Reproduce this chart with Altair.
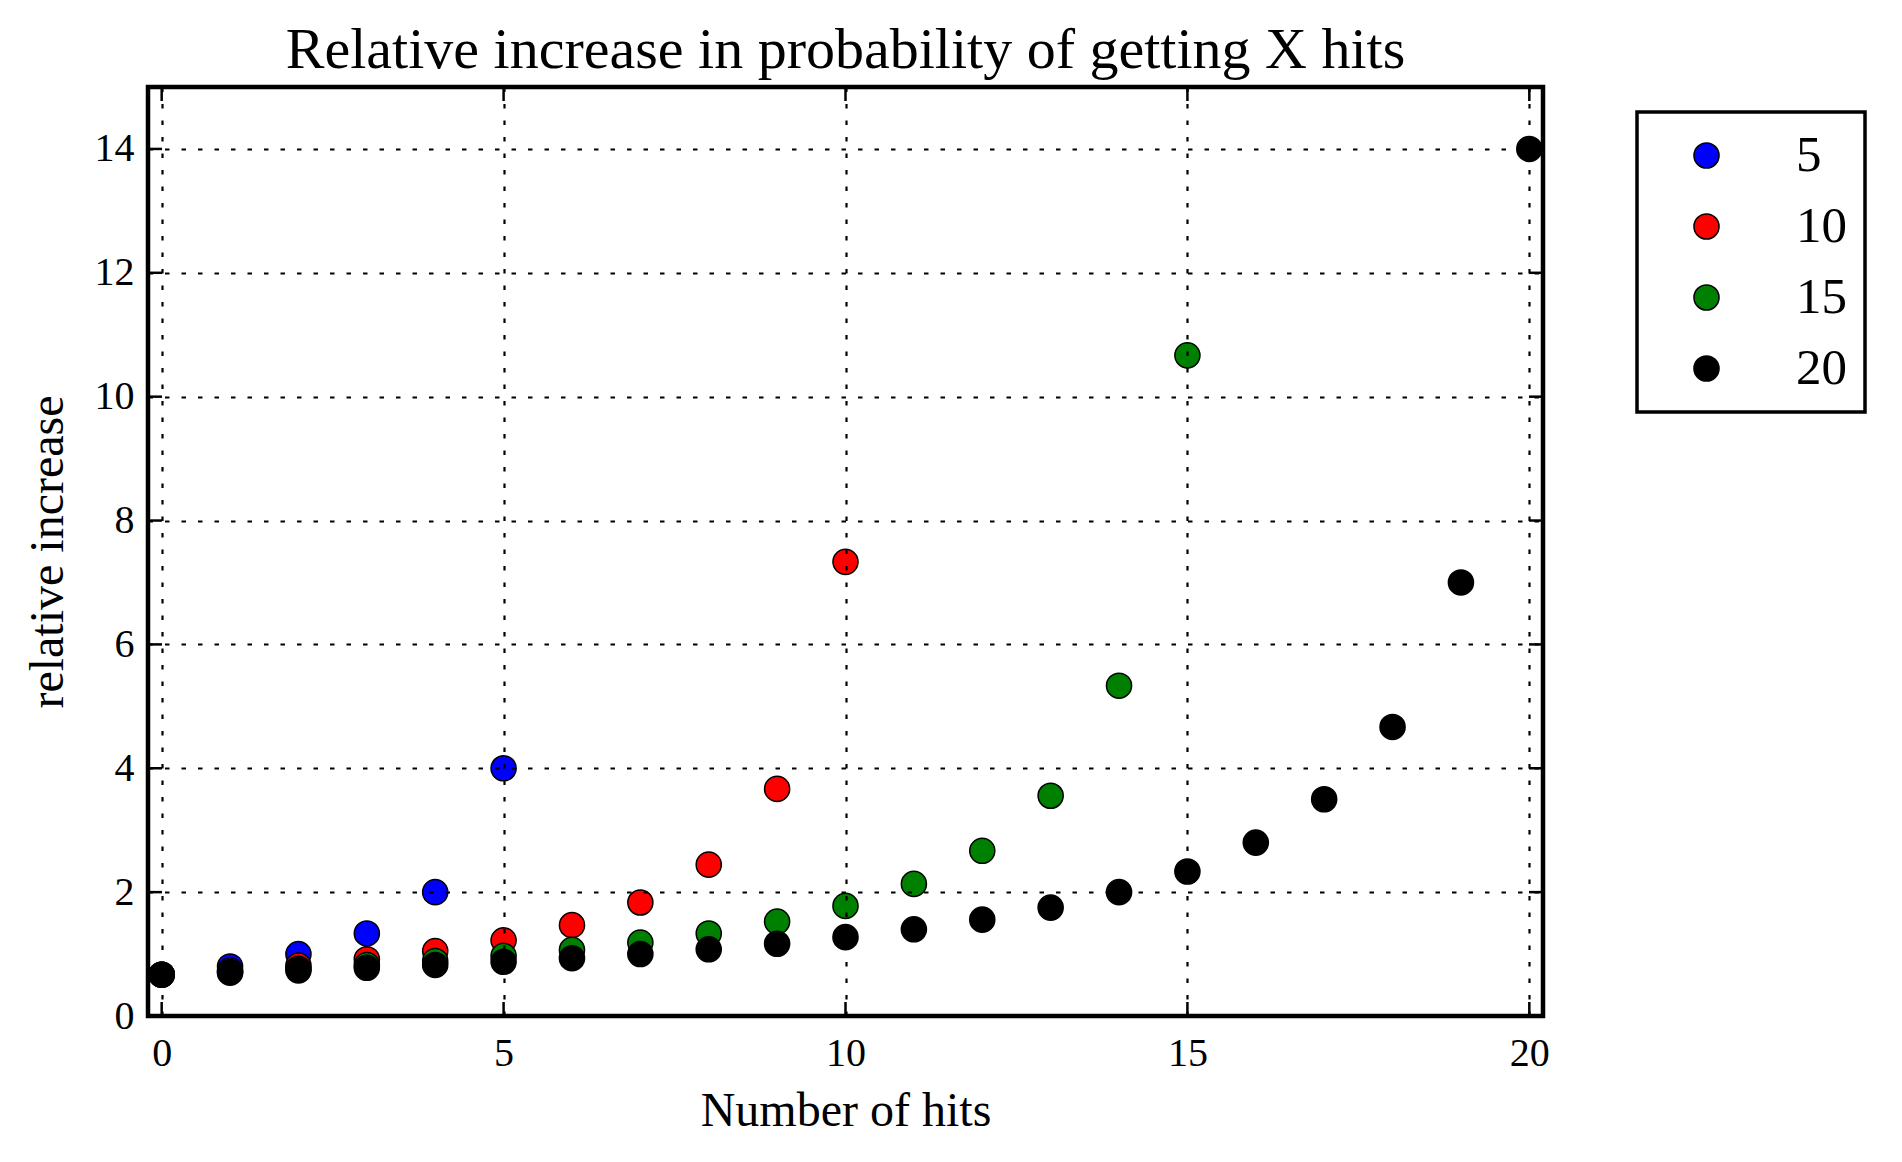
import altair as alt
import pandas as pd

# ---- data ----
series_names = ["5", "10", "15", "20"]
series_colors = ["#0000ff", "#ff0000", "#008000", "#000000"]

hits_5 = [0, 1, 2, 3, 4, 5]
inc_5 = [0.667, 0.8, 1.0, 1.333, 2.0, 4.0]

hits_10 = [0, 1, 2, 3, 4, 5, 6, 7, 8, 9, 10]
inc_10 = [0.667, 0.733, 0.815, 0.917, 1.048, 1.222, 1.467, 1.833, 2.444, 3.667, 7.333]

hits_15 = [0, 1, 2, 3, 4, 5, 6, 7, 8, 9, 10, 11, 12, 13, 14, 15]
inc_15 = [0.667, 0.711, 0.762, 0.821, 0.889, 0.970, 1.067, 1.185, 1.333, 1.524,
          1.778, 2.133, 2.667, 3.556, 5.333, 10.667]

hits_20 = [0, 1, 2, 3, 4, 5, 6, 7, 8, 9, 10, 11, 12, 13, 14, 15, 16, 17, 18, 19, 20]
inc_20 = [0.667, 0.700, 0.737, 0.778, 0.824, 0.875, 0.933, 1.0, 1.077, 1.167,
          1.273, 1.4, 1.556, 1.75, 2.0, 2.333, 2.8, 3.5, 4.667, 7.0, 14.0]

x_ticks = [0, 5, 10, 15, 20]
y_ticks = [0, 2, 4, 6, 8, 10, 12, 14]

rows = []
for name, hs, vs in zip(series_names, [hits_5, hits_10, hits_15, hits_20],
                        [inc_5, inc_10, inc_15, inc_20]):
    for h, v in zip(hs, vs):
        rows.append({"series": name, "hits": h, "increase": v})
df = pd.DataFrame(rows)
xt = pd.DataFrame({"hits": x_ticks})
yt = pd.DataFrame({"increase": y_ticks})

# ---- layout ----
W, H = 1395, 929
FONT = "Liberation Serif"
TICK = 14
MSIZE = 630

xscale = alt.Scale(domain=[-0.2, 20.2], nice=False, zero=False)
yscale = alt.Scale(domain=[0, 15], nice=False, zero=False)

common = dict(grid=True, gridColor="black", gridDash=[4.5, 12], gridWidth=2.2,
              gridOpacity=1, ticks=False, domain=False, labelFont=FONT,
              labelColor="black", titleFont=FONT, titleColor="black",
              titleFontWeight="normal", labelFlush=False, labelOverlap=False,
              zindex=1, format="d")

xaxis = alt.Axis(values=x_ticks, labelFontSize=40, labelPadding=49,
                 labelBaseline="alphabetic", title="Number of hits",
                 titleFontSize=48, titleBaseline="alphabetic", titleY=109, **common)
yaxis = alt.Axis(values=y_ticks, labelFontSize=40, labelPadding=14,
                 labelBaseline="middle", title="relative increase",
                 titleFontSize=48, titleBaseline="alphabetic", titleX=-86,
                 titleAngle=270, **common)

legend = alt.Legend(title=None, orient="none", legendX=1489, legendY=25,
                    strokeColor="black", fillColor="white", padding=18,
                    rowPadding=19, symbolOffset=26, labelOffset=64,
                    labelFont=FONT, labelFontSize=51, labelColor="black",
                    labelBaseline="middle", symbolSize=MSIZE, symbolType="circle",
                    symbolStrokeColor="black", symbolStrokeWidth=1.5,
                    symbolOpacity=1)

X = alt.X("hits:Q", scale=xscale, axis=xaxis)
Y = alt.Y("increase:Q", scale=yscale, axis=yaxis)

points = alt.Chart(df).mark_circle(size=MSIZE, stroke="black", strokeWidth=1.5,
                                   opacity=1).encode(
    x=X, y=Y,
    color=alt.Color("series:N", scale=alt.Scale(domain=series_names, range=series_colors),
                    legend=legend),
)

tick_style = dict(color="black", strokeWidth=2.5)
bottom = alt.Chart(xt).mark_rule(**tick_style).encode(
    x=X, y=alt.value(H), y2=alt.value(H - TICK))
top = alt.Chart(xt).mark_rule(**tick_style).encode(
    x=X, y=alt.value(0), y2=alt.value(TICK))
left = alt.Chart(yt).mark_rule(**tick_style).encode(
    y=Y, x=alt.value(0), x2=alt.value(TICK))
right = alt.Chart(yt).mark_rule(**tick_style).encode(
    y=Y, x=alt.value(W), x2=alt.value(W - TICK))

chart = alt.layer(points, bottom, top, left, right).properties(
    width=W, height=H,
    autosize=alt.AutoSizeParams(type="none"),
    padding={"left": 148, "top": 87, "right": 359, "bottom": 146},
    title=alt.Title("Relative increase in probability of getting X hits", font=FONT,
                    fontSize=58, fontWeight="normal", color="black", anchor="middle",
                    frame="group", baseline="alphabetic", offset=30, dy=70),
).configure(background="white").configure_view(
    stroke="black", strokeWidth=4.5
).configure_legend(strokeWidth=3.5)

chart.save("out.html", embed_options={"renderer": "svg", "actions": False})
